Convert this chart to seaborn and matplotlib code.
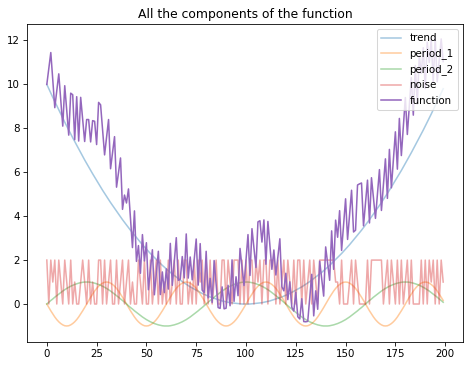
import numpy as np
import pandas as pd
import matplotlib
matplotlib.use("Agg")
import matplotlib.pyplot as plt
import seaborn as sns

# ---------------- data ----------------
x_values = list(range(200))

trend = [
    10.00, 9.80, 9.60, 9.41, 9.22, 9.03, 8.84, 8.65, 8.46, 8.28,
    8.10, 7.92, 7.74, 7.57, 7.40, 7.23, 7.06, 6.89, 6.72, 6.56,
    6.40, 6.24, 6.08, 5.93, 5.78, 5.63, 5.48, 5.33, 5.18, 5.04,
    4.90, 4.76, 4.62, 4.49, 4.36, 4.23, 4.10, 3.97, 3.84, 3.72,
    3.60, 3.48, 3.36, 3.25, 3.14, 3.03, 2.92, 2.81, 2.70, 2.60,
    2.50, 2.40, 2.30, 2.21, 2.12, 2.03, 1.94, 1.85, 1.76, 1.68,
    1.60, 1.52, 1.44, 1.37, 1.30, 1.23, 1.16, 1.09, 1.02, 0.96,
    0.90, 0.84, 0.78, 0.73, 0.68, 0.63, 0.58, 0.53, 0.48, 0.44,
    0.40, 0.36, 0.32, 0.29, 0.26, 0.23, 0.20, 0.17, 0.14, 0.12,
    0.10, 0.08, 0.06, 0.05, 0.04, 0.03, 0.02, 0.01, 0.00, 0.00,
    0.00, 0.00, 0.00, 0.01, 0.02, 0.03, 0.04, 0.05, 0.06, 0.08,
    0.10, 0.12, 0.14, 0.17, 0.20, 0.23, 0.26, 0.29, 0.32, 0.36,
    0.40, 0.44, 0.48, 0.53, 0.58, 0.63, 0.68, 0.73, 0.78, 0.84,
    0.90, 0.96, 1.02, 1.09, 1.16, 1.23, 1.30, 1.37, 1.44, 1.52,
    1.60, 1.68, 1.76, 1.85, 1.94, 2.03, 2.12, 2.21, 2.30, 2.40,
    2.50, 2.60, 2.70, 2.81, 2.92, 3.03, 3.14, 3.25, 3.36, 3.48,
    3.60, 3.72, 3.84, 3.97, 4.10, 4.23, 4.36, 4.49, 4.62, 4.76,
    4.90, 5.04, 5.18, 5.33, 5.48, 5.63, 5.78, 5.93, 6.08, 6.24,
    6.40, 6.56, 6.72, 6.89, 7.06, 7.23, 7.40, 7.57, 7.74, 7.92,
    8.10, 8.28, 8.46, 8.65, 8.84, 9.03, 9.22, 9.41, 9.60, 9.80,
]

# one cycle (40 samples) of period_1, repeated across the 200 samples
period_1_cycle = [
    0.00, -0.16, -0.31, -0.45, -0.59, -0.71, -0.81, -0.89, -0.95, -0.99,
    -1.00, -0.99, -0.95, -0.89, -0.81, -0.71, -0.59, -0.45, -0.31, -0.16,
    0.00, 0.16, 0.31, 0.45, 0.59, 0.71, 0.81, 0.89, 0.95, 0.99,
    1.00, 0.99, 0.95, 0.89, 0.81, 0.71, 0.59, 0.45, 0.31, 0.16,
]

# one cycle (80 samples) of period_2, repeated across the 200 samples
period_2_cycle = [
    0.00, 0.08, 0.16, 0.23, 0.31, 0.38, 0.45, 0.52, 0.59, 0.65,
    0.71, 0.76, 0.81, 0.85, 0.89, 0.92, 0.95, 0.97, 0.99, 1.00,
    1.00, 1.00, 0.99, 0.97, 0.95, 0.92, 0.89, 0.85, 0.81, 0.76,
    0.71, 0.65, 0.59, 0.52, 0.45, 0.38, 0.31, 0.23, 0.16, 0.08,
    0.00, -0.08, -0.16, -0.23, -0.31, -0.38, -0.45, -0.52, -0.59, -0.65,
    -0.71, -0.76, -0.81, -0.85, -0.89, -0.92, -0.95, -0.97, -0.99, -1.00,
    -1.00, -1.00, -0.99, -0.97, -0.95, -0.92, -0.89, -0.85, -0.81, -0.76,
    -0.71, -0.65, -0.59, -0.52, -0.45, -0.38, -0.31, -0.23, -0.16, -0.08,
]

noise = [
    2, 0, 2, 1, 2, 0, 2, 1, 0, 2,
    1, 0, 2, 0, 1, 0, 0, 1, 2, 1,
    0, 2, 0, 1, 0, 0, 2, 2, 0, 2,
    0, 1, 2, 0, 0, 2, 0, 1, 2, 0,
    1, 2, 0, 1, 0, 0, 2, 1, 0, 2,
    0, 0, 2, 0, 1, 2, 0, 2, 0, 1,
    0, 2, 0, 1, 2, 0, 2, 0, 0, 2,
    2, 0, 1, 0, 2, 0, 2, 1, 2, 0,
    2, 0, 2, 0, 1, 2, 0, 0, 2, 2,
    0, 2, 1, 0, 2, 2, 2, 0, 2, 0,
    2, 0, 2, 2, 0, 2, 1, 2, 0, 2,
    2, 0, 2, 2, 2, 0, 2, 0, 1, 2,
    0, 2, 1, 0, 2, 0, 2, 2, 0, 2,
    0, 1, 2, 0, 2, 1, 0, 2, 2, 2,
    2, 2, 2, 2, 2, 1, 1, 0, 2, 0,
    0, 0, 1, 2, 0, 2, 1, 0, 0, 0,
    0, 2, 0, 2, 2, 2, 2, 2, 2, 0,
    1, 2, 0, 2, 1, 0, 2, 0, 2, 0,
    1, 2, 0, 2, 0, 0, 0, 0, 2, 0,
    2, 0, 2, 1, 2, 0, 2, 0, 2, 1,
]

# noise draw that went into the plotted "function" line (read from its wiggles)
function_noise = [
    0, 1, 2, 1, 0, 1, 2, 1, 0, 2,
    1, 0, 2, 2, 0, 2, 0, 2, 1, 0,
    1, 1, 0, 1, 1, 0, 2, 2, 1, 0,
    1, 2, 0, 1, 2, 0, 1, 2, 0, 1,
    1, 2, 1, 0, 2, 0, 1, 0, 2, 1,
    2, 0, 1, 2, 0, 1, 2, 0, 1, 0,
    1, 0, 2, 0, 1, 2, 0, 0, 1, 0,
    2, 0, 1, 0, 1, 2, 0, 2, 0, 0,
    2, 0, 1, 0, 2, 1, 0, 0, 1, 0,
    0, 1, 0, 2, 0, 1, 0, 2, 1, 0,
    1, 2, 0, 2, 1, 0, 2, 2, 1, 2,
    0, 2, 1, 0, 1, 0, 1, 2, 0, 0,
    1, 0, 1, 0, 0, 1, 0, 0, 1, 0,
    0, 0, 1, 2, 0, 1, 0, 2, 1, 0,
    2, 1, 0, 2, 0, 2, 1, 2, 0, 1,
    2, 0, 1, 2, 0, 0, 2, 2, 2, 0,
    1, 2, 0, 2, 1, 0, 1, 2, 0, 1,
    2, 0, 2, 0, 1, 2, 0, 2, 0, 1,
    2, 0, 1, 2, 0, 2, 0, 2, 1, 2,
    0, 2, 1, 2, 0, 2, 0, 1, 2, 1,
]

series_names = ["trend", "period_1", "period_2", "noise", "function"]
series_colors = ["tab:blue", "tab:orange", "tab:green", "tab:red", "tab:purple"]
series_alpha = [0.4, 0.4, 0.4, 0.4, 1.0]

# ---------------- build table ----------------
n = len(x_values)
period_1 = np.tile(period_1_cycle, n // len(period_1_cycle) + 1)[:n]
period_2 = np.tile(period_2_cycle, n // len(period_2_cycle) + 1)[:n]
function = np.array(trend) + period_1 + period_2 + np.array(function_noise)

df = pd.DataFrame({
    "x": x_values,
    "trend": trend,
    "period_1": period_1,
    "period_2": period_2,
    "noise": noise,
    "function": function,
})

# ---------------- plot ----------------
DPI = 74
fig, ax = plt.subplots(figsize=(474 / DPI, 365 / DPI), dpi=DPI)
fig.subplots_adjust(left=27 / 474, right=463 / 474, top=1 - 24 / 365, bottom=1 - 342 / 365)

for name, color, alpha in zip(series_names, series_colors, series_alpha):
    sns.lineplot(data=df, x="x", y=name, ax=ax, color=color, alpha=alpha,
                 label=name, linewidth=1.5)

ax.set_xlim(-9.95, 208.95)
ax.set_ylim(-1.73, 12.75)
ax.set_xticks([0, 25, 50, 75, 100, 125, 150, 175, 200])
ax.set_yticks([0, 2, 4, 6, 8, 10, 12])
ax.set_xlabel("")
ax.set_ylabel("")
ax.set_title("All the components of the function")
ax.legend(loc="upper right")

fig.savefig("out.png", dpi=DPI)
